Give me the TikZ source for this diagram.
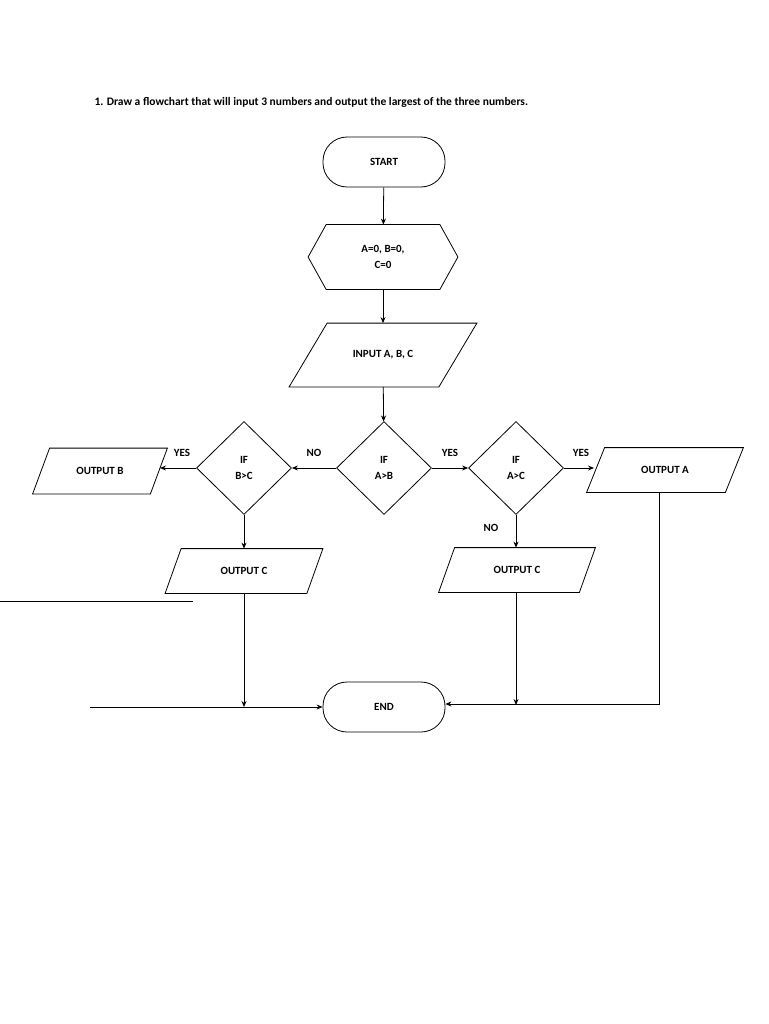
\documentclass[tikz,border=0pt]{standalone}
\usepackage{fontspec}
\setmainfont{Carlito}
\usetikzlibrary{shapes.geometric,calc,arrows.meta}
\begin{document}
\begin{tikzpicture}[x=1pt,y=-1pt,
  base/.style={draw,thick,inner sep=0pt,font=\fontsize{11}{12}\selectfont\bfseries,align=center},
  term/.style={base,rounded corners=24pt,minimum width=122pt,minimum height=50pt},
  box/.style={base,draw=none},
  dec/.style={base,diamond,minimum width=95pt,minimum height=93pt},
  arr/.style={thick,-{Stealth[length=6pt,width=5pt]}},
  lab/.style={font=\fontsize{11}{12}\selectfont\bfseries}]
\useasboundingbox (0,0) rectangle (768,1024);
\newcommand\paral[2]{\draw[thick] (#1.south west) -- ($(#1.north west)+(#2,0)$) -- (#1.north east) -- ($(#1.south east)-(#2,0)$) -- cycle;}
\node[anchor=west,font=\fontsize{11.5}{13}\selectfont\bfseries] (title) at (91,102) {1. Draw a flowchart that will input 3 numbers and output the largest of the three numbers.};
\node[term] (start) at (384,162) {START};
\node[box,minimum width=149pt,minimum height=64pt] (init) at (383,257) {A=0, B=0,\\[4pt] C=0};
\draw[thick] (init.west) -- ($(init.north west)+(18,0)$) -- ($(init.north east)-(18,0)$) -- (init.east) -- ($(init.south east)-(18,0)$) -- ($(init.south west)+(18,0)$) -- cycle;
\node[box,minimum width=187pt,minimum height=63pt] (input) at (383,355) {INPUT A, B, C};
\paral{input}{38}
\node[dec] (ab) at (384,468) {IF\\[4pt] A>B};
\node[dec] (bc) at (244,468) {IF\\[4pt] B>C};
\node[dec] (ac) at (516,468) {IF\\[4pt] A>C};
\node[box,minimum width=134pt,minimum height=45pt] (ob) at (100,471) {OUTPUT B};
\paral{ob}{17}
\node[box,minimum width=156pt,minimum height=44pt] (oa) at (665,470) {OUTPUT A};
\paral{oa}{18}
\node[box,minimum width=157pt,minimum height=44pt] (oc1) at (244,571) {OUTPUT C};
\paral{oc1}{16}
\node[box,minimum width=156pt,minimum height=44pt] (oc2) at (517,570) {OUTPUT C};
\paral{oc2}{16}
\node[term] (end) at (384,707) {END};
\coordinate (l1) at (0,601); \coordinate (l2) at (193,601);
\draw (l1) -- (l2);
\coordinate (fe) at (90,707);
\coordinate (j1) at (244,707);
\coordinate (j2) at (516,705);
\coordinate (ca) at (659,704);
\coordinate (oaw) at (594,468);
\coordinate (obe) at (160,468);
\draw[arr] (start) -- (init);
\draw[arr] (init) -- (input);
\draw[arr] (input) -- (ab);
\draw[arr] (ab) -- node[lab,above=8pt]{NO} (bc);
\draw[arr] (ab) -- node[lab,above=8pt]{YES} (ac);
\draw[arr] (ac) -- node[lab,above=8pt,xshift=2pt]{YES} (oaw);
\draw[arr] (bc) -- node[lab,above=8pt,xshift=4pt]{YES} (obe);
\draw[arr] (bc) -- (oc1);
\draw[arr] (ac) -- node[lab,left=14pt,pos=0.4]{NO} (oc2.north -| ac);
\draw[arr] (oc1) -- (j1);
\draw[arr] (fe) -- (end);
\draw[arr] (oc2.south -| j2) -- (j2);
\draw[arr] (oa.south -| ca) -- (ca) -- (end.east |- ca);
\end{tikzpicture}
\end{document}
